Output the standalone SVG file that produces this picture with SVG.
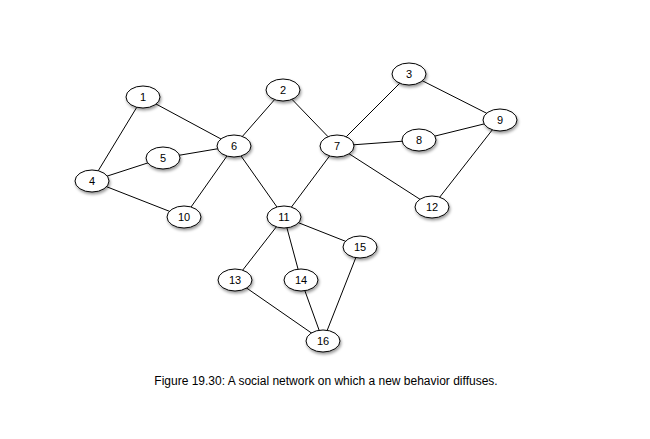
<svg xmlns="http://www.w3.org/2000/svg" width="650" height="439" viewBox="0 0 650 439">
<defs>
<filter id="sh" x="-50%" y="-50%" width="200%" height="200%"><feDropShadow dx="1" dy="2" stdDeviation="1.5" flood-color="#000" flood-opacity="0.4"/></filter>
<style>
.n ellipse{fill:#fff;stroke:#000;stroke-width:1;filter:url(#sh)}
.n text{font-family:"Liberation Sans",Arial,sans-serif;font-size:11px;text-anchor:middle;dominant-baseline:central;fill:#000}
#edges line{stroke:#000;stroke-width:1}
.cap{font-family:"Liberation Sans",Arial,sans-serif;font-size:12px;fill:#000}
</style>
</defs>
<rect width="650" height="439" fill="#fff"/>
<g id="edges">
<line x1="143" y1="97" x2="234" y2="146"/><line x1="143" y1="97" x2="92" y2="181"/>
<line x1="92" y1="181" x2="163" y2="158"/><line x1="163" y1="158" x2="234" y2="146"/>
<line x1="92" y1="181" x2="184" y2="217"/><line x1="184" y1="217" x2="234" y2="146"/>
<line x1="234" y1="146" x2="283" y2="90"/><line x1="234" y1="146" x2="284" y2="217"/>
<line x1="283" y1="90" x2="337" y2="146"/><line x1="337" y1="146" x2="284" y2="217"/>
<line x1="337" y1="146" x2="409" y2="74"/><line x1="337" y1="146" x2="419" y2="140"/>
<line x1="419" y1="140" x2="500" y2="120"/><line x1="409" y1="74" x2="500" y2="120"/>
<line x1="500" y1="120" x2="432" y2="207"/><line x1="337" y1="146" x2="432" y2="207"/>
<line x1="284" y1="217" x2="235" y2="280"/><line x1="284" y1="217" x2="301" y2="280"/>
<line x1="284" y1="217" x2="360" y2="247"/><line x1="235" y1="280" x2="323" y2="341"/>
<line x1="301" y1="280" x2="323" y2="341"/><line x1="360" y1="247" x2="323" y2="341"/>
</g>
<g id="n1" class="n"><ellipse cx="143" cy="97" rx="17" ry="11"/><text x="143" y="97">1</text></g>
<g id="n2" class="n"><ellipse cx="283" cy="90" rx="17" ry="11"/><text x="283" y="90">2</text></g>
<g id="n3" class="n"><ellipse cx="409" cy="74" rx="17" ry="11"/><text x="409" y="74">3</text></g>
<g id="n4" class="n"><ellipse cx="92" cy="181" rx="17" ry="11"/><text x="92" y="181">4</text></g>
<g id="n5" class="n"><ellipse cx="163" cy="158" rx="17" ry="11"/><text x="163" y="158">5</text></g>
<g id="n6" class="n"><ellipse cx="234" cy="146" rx="17" ry="11"/><text x="234" y="146">6</text></g>
<g id="n7" class="n"><ellipse cx="337" cy="146" rx="17" ry="11"/><text x="337" y="146">7</text></g>
<g id="n8" class="n"><ellipse cx="419" cy="140" rx="17" ry="11"/><text x="419" y="140">8</text></g>
<g id="n9" class="n"><ellipse cx="500" cy="120" rx="17" ry="11"/><text x="500" y="120">9</text></g>
<g id="n10" class="n"><ellipse cx="184" cy="217" rx="17" ry="11"/><text x="184" y="217">10</text></g>
<g id="n11" class="n"><ellipse cx="284" cy="217" rx="17" ry="11"/><text x="284" y="217">11</text></g>
<g id="n12" class="n"><ellipse cx="432" cy="207" rx="17" ry="11"/><text x="432" y="207">12</text></g>
<g id="n13" class="n"><ellipse cx="235" cy="280" rx="17" ry="11"/><text x="235" y="280">13</text></g>
<g id="n14" class="n"><ellipse cx="301" cy="280" rx="17" ry="11"/><text x="301" y="280">14</text></g>
<g id="n15" class="n"><ellipse cx="360" cy="247" rx="17" ry="11"/><text x="360" y="247">15</text></g>
<g id="n16" class="n"><ellipse cx="323" cy="341" rx="17" ry="11"/><text x="323" y="341">16</text></g>
<text class="cap" x="326" y="385" text-anchor="middle">Figure 19.30: A social network on which a new behavior diffuses.</text>
</svg>
